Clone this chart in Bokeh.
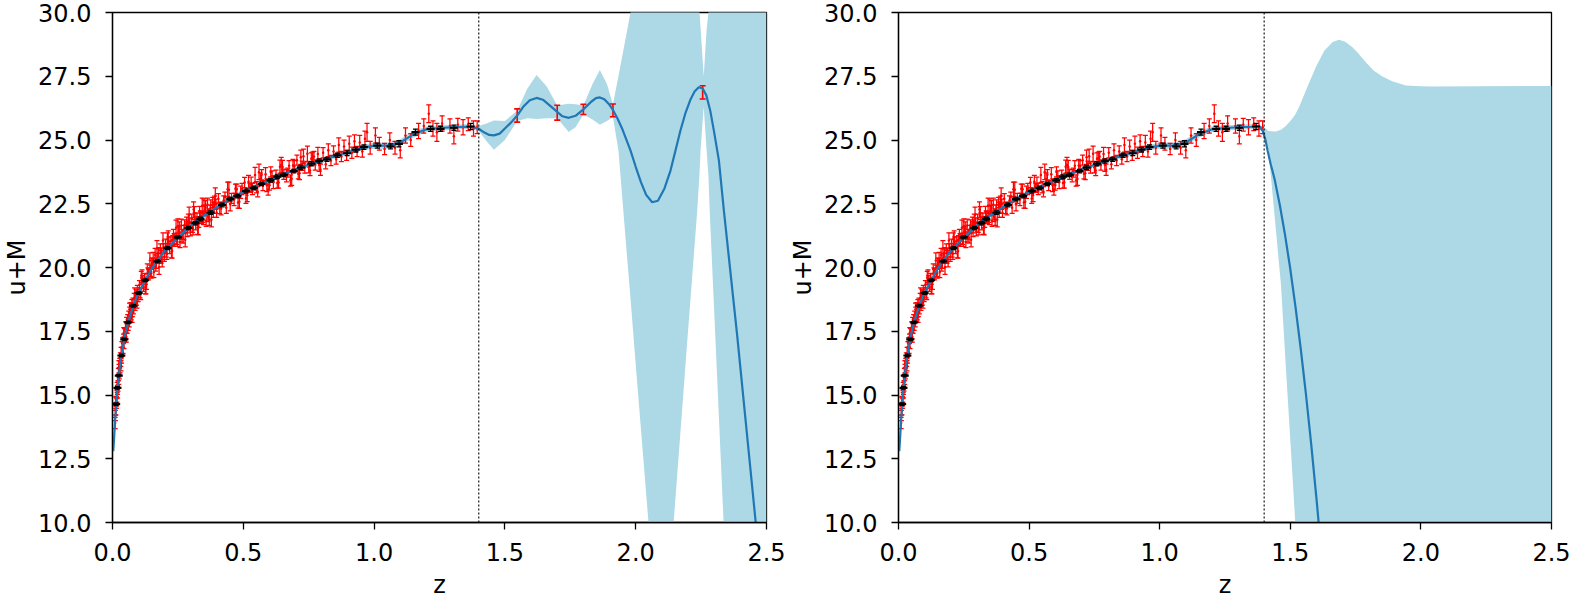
from bokeh.plotting import figure
from bokeh.layouts import row
from bokeh.models import Range1d, FixedTicker, PrintfTickFormatter, Span, ColumnDataSource
from bokeh.embed import file_html
from bokeh.resources import INLINE

# ---------------- data ----------------
# GP mean / band inside the data region (shared by both panels)
fit_z = [0.003, 0.006, 0.010, 0.015, 0.020, 0.030, 0.040, 0.050, 0.060, 0.070,
         0.080, 0.090, 0.100, 0.125, 0.150, 0.175, 0.200, 0.250, 0.300, 0.350,
         0.400, 0.450, 0.500, 0.550, 0.600, 0.650, 0.700, 0.750, 0.800, 0.850,
         0.900, 0.950, 1.000, 1.050, 1.100, 1.150, 1.200, 1.250, 1.300, 1.350]
fit_mu = [12.8, 13.3, 14.0, 14.8, 15.4, 16.3, 16.9, 17.45, 17.85, 18.2,
          18.5, 18.78, 19.0, 19.5, 19.95, 20.32, 20.65, 21.18, 21.64, 22.03,
          22.37, 22.68, 22.96, 23.2, 23.43, 23.64, 23.84, 24.03, 24.2, 24.37,
          24.52, 24.68, 24.78, 24.78, 24.9, 25.22, 25.42, 25.47, 25.5, 25.52]
fit_up = [13.1, 13.5, 14.15, 14.95, 15.55, 16.42, 17.02, 17.56, 17.96, 18.3,
          18.6, 18.88, 19.1, 19.6, 20.05, 20.42, 20.75, 21.27, 21.73, 22.12,
          22.46, 22.77, 23.05, 23.29, 23.52, 23.73, 23.93, 24.12, 24.3, 24.47,
          24.62, 24.78, 24.9, 24.9, 25.03, 25.35, 25.53, 25.58, 25.6, 25.62]
fit_lo = [12.5, 13.1, 13.85, 14.65, 15.25, 16.18, 16.78, 17.34, 17.74, 18.1,
          18.4, 18.68, 18.9, 19.4, 19.85, 20.22, 20.55, 21.09, 21.55, 21.94,
          22.28, 22.59, 22.87, 23.11, 23.34, 23.55, 23.75, 23.94, 24.1, 24.27,
          24.42, 24.58, 24.66, 24.66, 24.77, 25.09, 25.31, 25.36, 25.4, 25.42]

# left panel: GP beyond z = 1.38
muL_z = [1.38, 1.40, 1.42, 1.44, 1.458, 1.48, 1.50, 1.525, 1.547, 1.57,
         1.595, 1.621, 1.645, 1.67, 1.70, 1.72, 1.744, 1.77, 1.80, 1.83,
         1.848, 1.863, 1.88, 1.90, 1.913, 1.93, 1.95, 1.98, 2.00, 2.02,
         2.04, 2.063, 2.085, 2.11, 2.133, 2.15, 2.171, 2.19, 2.21, 2.225,
         2.241, 2.256, 2.27, 2.285, 2.30, 2.318, 2.337, 2.388, 2.458, 2.50]
muL = [25.5, 25.44, 25.3, 25.2, 25.18, 25.25, 25.45, 25.7, 25.96, 26.3,
       26.56, 26.65, 26.58, 26.37, 26.1, 25.93, 25.87, 25.95, 26.2, 26.5,
       26.64, 26.67, 26.6, 26.38, 26.18, 25.85, 25.4, 24.59, 23.95, 23.35,
       22.85, 22.56, 22.62, 23.1, 23.8, 24.5, 25.37, 26.05, 26.6, 26.9,
       27.07, 27.02, 26.75, 26.15, 25.3, 24.2, 22.24, 17.33, 10.08, 6.0]
bandL_z = [1.38, 1.40, 1.43, 1.458, 1.50, 1.547, 1.585, 1.621, 1.66, 1.70,
           1.744, 1.77, 1.80, 1.835, 1.863, 1.89, 1.913, 1.934, 1.96, 1.98,
           2.00, 2.049, 2.097, 2.145, 2.20, 2.235, 2.244, 2.248, 2.26, 2.271,
           2.278, 2.283, 2.31, 2.336, 2.40, 2.50]
bandL_up = [25.6, 25.55, 25.65, 25.76, 25.75, 26.15, 27.0, 27.55, 27.1, 26.35,
            26.42, 26.4, 26.35, 27.2, 27.75, 27.2, 26.4, 27.5, 28.9, 30.0,
            31.2, 33.0, 34.0, 33.0, 32.0, 30.8, 30.0, 29.4, 27.5, 29.3,
            30.0, 30.6, 32.5, 34.0, 36.0, 38.0]
bandL_lo = [25.4, 25.35, 24.95, 24.62, 25.0, 25.75, 25.85, 25.82, 25.85, 25.85,
            25.31, 25.5, 26.0, 25.8, 25.6, 25.75, 25.9, 24.6, 21.3, 18.8,
            16.2, 10.0, 5.0, 10.0, 17.5, 22.2, 23.7, 24.6, 26.3, 24.6,
            23.6, 22.2, 16.0, 10.0, 0.0, -10.0]

# right panel: GP beyond z = 1.38
muR_z = [1.38, 1.395, 1.405, 1.413, 1.425, 1.44, 1.46, 1.48, 1.50, 1.52,
         1.54, 1.56, 1.58, 1.60, 1.62, 1.65]
muR = [25.55, 25.35, 25.0, 24.59, 24.05, 23.46, 22.44, 21.27, 19.94, 18.45,
       16.81, 15.02, 13.07, 10.96, 8.7, 5.0]
bandR_z = [1.38, 1.40, 1.4165, 1.445, 1.464, 1.483, 1.505, 1.519, 1.534, 1.56,
           1.598, 1.63, 1.662, 1.687, 1.71, 1.738, 1.76, 1.789, 1.82, 1.853,
           1.89, 1.942, 2.0, 2.044, 2.50]
bandR_up = [25.6, 25.5, 25.35, 25.33, 25.4, 25.55, 25.8, 26.0, 26.3, 26.95,
            27.86, 28.5, 28.84, 28.93, 28.85, 28.64, 28.4, 28.05, 27.72, 27.49,
            27.3, 27.14, 27.11, 27.10, 27.12]
bandR_lo = [25.4, 25.3, 24.6, 21.45, 19.36, 16.1, 12.4, 10.0, 7.5, 3.0,
            -2.0, -6.0, -10.0, -12.0, -13.5, -15.0, -16.5, -18.0, -19.0, -20.0,
            -21.0, -22.0, -24.0, -25.0, -27.0]

# individual supernovae (red)
red_z = [
    0.0100, 0.0110, 0.0120, 0.0130, 0.0140, 0.0150, 0.0160, 0.0170, 0.0180, 0.0190,
    0.0200, 0.0210, 0.0225, 0.0235, 0.0250, 0.0260, 0.0275, 0.0290, 0.0300, 0.0315,
    0.0330, 0.0345, 0.0360, 0.0375, 0.0390, 0.0405, 0.0420, 0.0440, 0.0460, 0.0480,
    0.0500, 0.0520, 0.0540, 0.0560, 0.0580, 0.0600, 0.0620, 0.0640, 0.0660, 0.0680,
    0.0700, 0.0720, 0.0740, 0.0760, 0.0780, 0.0800, 0.0830, 0.0860, 0.0890, 0.0920,
    0.0950, 0.0980,
    0.0125, 0.0195, 0.0245, 0.0325, 0.0430, 0.0530, 0.0650, 0.0750, 0.0845, 0.0935,
    0.103, 0.108, 0.113, 0.118, 0.123, 0.128, 0.133, 0.138, 0.143, 0.148,
    0.153, 0.158, 0.163, 0.168, 0.173, 0.178, 0.183, 0.188, 0.193, 0.198,
    0.203, 0.208, 0.213, 0.218, 0.223, 0.228, 0.233, 0.238, 0.243, 0.248,
    0.253, 0.258, 0.263, 0.268, 0.273, 0.278, 0.283, 0.288, 0.293, 0.298,
    0.303, 0.308, 0.313, 0.318, 0.323, 0.328, 0.333, 0.338, 0.343, 0.348,
    0.353, 0.358, 0.363, 0.368, 0.373, 0.378, 0.383, 0.388, 0.393, 0.398,
    0.1055, 0.1155, 0.1255, 0.1355, 0.1455, 0.1555, 0.1655, 0.1755, 0.1855, 0.1955,
    0.2055, 0.2155, 0.2255, 0.2355, 0.2455, 0.2555, 0.2655, 0.2755, 0.2855, 0.2955,
    0.3055, 0.3155, 0.3255, 0.3355, 0.3455, 0.3555, 0.3655, 0.3755, 0.3855, 0.3955,
    0.11, 0.13, 0.15, 0.17, 0.19, 0.21, 0.23, 0.25, 0.27, 0.29,
    0.31, 0.33, 0.35, 0.37, 0.39,
    0.405, 0.415, 0.425, 0.435, 0.445, 0.455, 0.465, 0.475, 0.485, 0.495,
    0.505, 0.515, 0.525, 0.535, 0.545, 0.555, 0.565, 0.575, 0.585, 0.595,
    0.605, 0.615, 0.625, 0.635, 0.645, 0.655, 0.665, 0.675, 0.685, 0.695,
    0.705, 0.715, 0.725, 0.735, 0.745, 0.755, 0.765, 0.775, 0.785, 0.795,
    0.41, 0.43, 0.45, 0.47, 0.49, 0.51, 0.53, 0.55, 0.57, 0.59,
    0.61, 0.63, 0.65, 0.67, 0.69, 0.71, 0.73, 0.75, 0.77, 0.79,
    0.44, 0.48, 0.52, 0.56, 0.60, 0.64, 0.68, 0.72, 0.76,
    0.805, 0.815, 0.825, 0.835, 0.845, 0.855, 0.865, 0.875, 0.885, 0.895,
    0.905, 0.915, 0.925, 0.935, 0.945, 0.955, 0.965, 0.973, 0.985, 1.005,
    1.020, 1.040, 1.060, 1.080, 1.100, 1.120, 1.140, 1.170, 1.190, 1.209,
    1.225, 1.240, 1.260, 1.290, 1.305, 1.320, 1.340, 1.360, 1.380, 1.394]
red_u = [
    13.90, 14.20, 14.45, 14.40, 14.75, 14.70, 15.05, 14.95, 15.30, 15.20,
    15.55, 15.35, 15.80, 15.60, 16.00, 15.85, 16.25, 16.10, 16.45, 16.30,
    16.65, 16.45, 16.85, 16.70, 17.05, 16.85, 17.20, 17.05, 17.40, 17.25,
    17.65, 17.40, 17.80, 17.60, 17.95, 17.75, 18.10, 17.90, 18.25, 18.05,
    18.40, 18.15, 18.50, 18.25, 18.60, 18.40, 18.80, 18.55, 18.95, 18.70,
    19.10, 18.85,
    14.70, 15.09, 16.11, 16.15, 17.42, 17.27, 18.36, 18.05, 18.98, 18.61,
    19.31, 18.96, 19.66, 19.26, 19.61, 19.25, 19.94, 19.73, 20.27, 19.76,
    20.19, 19.82, 20.50, 20.17, 20.39, 20.01, 20.73, 20.54, 21.06, 20.42,
    20.93, 20.54, 21.19, 20.74, 21.04, 20.65, 21.30, 21.05, 21.56, 21.01,
    21.41, 21.00, 21.65, 21.30, 21.49, 21.09, 21.78, 21.58, 22.07, 21.42,
    21.91, 21.50, 22.14, 21.68, 21.97, 21.56, 22.20, 21.94, 22.42, 21.86,
    22.25, 21.83, 22.47, 22.10, 22.29, 21.87, 22.55, 22.34, 22.82, 22.15,
    19.01, 19.51, 19.21, 19.79, 19.87, 20.33, 20.04, 20.58, 20.41, 20.74,
    20.61, 21.02, 20.62, 21.13, 21.13, 21.53, 21.18, 21.67, 21.46, 21.75,
    21.58, 21.96, 21.54, 22.02, 21.99, 22.36, 21.98, 22.45, 22.22, 22.48,
    19.60, 19.34, 20.15, 20.75, 20.22, 21.11, 21.07, 21.63, 21.16, 21.85,
    22.27, 21.77, 22.43, 21.87, 22.55,
    22.70, 22.31, 22.63, 22.34, 23.05, 22.71, 22.67, 23.07, 22.58, 23.08,
    23.33, 22.83, 23.13, 23.08, 23.63, 22.97, 23.47, 23.21, 23.66, 23.06,
    23.75, 23.34, 23.64, 23.33, 24.02, 23.66, 23.60, 23.99, 23.48, 23.97,
    24.21, 23.70, 23.99, 23.92, 24.46, 23.80, 24.28, 24.02, 24.45, 23.83,
    22.33, 22.76, 22.48, 23.09, 22.95, 22.71, 23.26, 23.15, 23.64, 23.23,
    23.57, 23.31, 23.94, 23.72, 24.00, 23.68, 24.36, 23.93, 24.35, 24.02,
    23.07, 22.55, 23.36, 23.75, 23.23, 23.95, 23.41, 24.32, 24.26,
    24.50, 24.05, 24.60, 24.20, 24.55, 24.25, 24.80, 24.35, 24.75, 24.40,
    24.85, 24.50, 24.95, 24.55, 24.90, 24.55, 25.05, 25.30, 24.70, 25.18,
    24.85, 24.65, 25.00, 24.70, 24.60, 25.18, 25.00, 25.35, 25.55, 26.03,
    25.45, 25.30, 25.65, 25.55, 25.15, 25.60, 25.50, 25.62, 25.45, 25.50]
red_err = [
    0.22, 0.20, 0.24, 0.18, 0.20, 0.22, 0.19, 0.23, 0.20, 0.18,
    0.22, 0.20, 0.24, 0.18, 0.20, 0.22, 0.19, 0.23, 0.20, 0.18,
    0.22, 0.20, 0.24, 0.18, 0.20, 0.22, 0.19, 0.23, 0.20, 0.18,
    0.22, 0.20, 0.24, 0.18, 0.20, 0.22, 0.19, 0.23, 0.20, 0.18,
    0.22, 0.20, 0.24, 0.18, 0.20, 0.22, 0.19, 0.23, 0.20, 0.18,
    0.20, 0.19,
    0.22, 0.20, 0.24, 0.20, 0.22, 0.20, 0.24, 0.20, 0.22, 0.20,
    0.18, 0.22, 0.25, 0.20, 0.16, 0.28, 0.20, 0.22, 0.30, 0.18,
    0.18, 0.22, 0.25, 0.20, 0.16, 0.28, 0.20, 0.22, 0.30, 0.18,
    0.18, 0.22, 0.25, 0.20, 0.16, 0.28, 0.20, 0.22, 0.30, 0.18,
    0.18, 0.22, 0.25, 0.20, 0.16, 0.28, 0.20, 0.22, 0.30, 0.18,
    0.18, 0.22, 0.25, 0.20, 0.16, 0.28, 0.20, 0.22, 0.30, 0.18,
    0.18, 0.22, 0.25, 0.20, 0.16, 0.28, 0.20, 0.22, 0.30, 0.18,
    0.20, 0.18, 0.24, 0.20, 0.22, 0.26, 0.18, 0.20, 0.25, 0.20,
    0.20, 0.18, 0.24, 0.20, 0.22, 0.26, 0.18, 0.20, 0.25, 0.20,
    0.20, 0.18, 0.24, 0.20, 0.22, 0.26, 0.18, 0.20, 0.25, 0.20,
    0.25, 0.20, 0.22, 0.30, 0.20, 0.25, 0.18, 0.28, 0.20, 0.24,
    0.30, 0.20, 0.26, 0.22, 0.25,
    0.20, 0.25, 0.18, 0.22, 0.30, 0.20, 0.24, 0.20, 0.26, 0.22,
    0.20, 0.25, 0.18, 0.22, 0.30, 0.20, 0.24, 0.20, 0.26, 0.22,
    0.20, 0.25, 0.18, 0.22, 0.30, 0.20, 0.24, 0.20, 0.26, 0.22,
    0.20, 0.25, 0.18, 0.22, 0.30, 0.20, 0.24, 0.20, 0.26, 0.22,
    0.22, 0.20, 0.26, 0.18, 0.24, 0.20, 0.28, 0.22, 0.20, 0.25,
    0.22, 0.20, 0.26, 0.18, 0.24, 0.20, 0.28, 0.22, 0.20, 0.25,
    0.28, 0.22, 0.25, 0.30, 0.20, 0.26, 0.22, 0.28, 0.24,
    0.20, 0.18, 0.25, 0.20, 0.22, 0.20, 0.28, 0.20, 0.25, 0.20,
    0.30, 0.22, 0.25, 0.20, 0.28, 0.22, 0.30, 0.35, 0.25, 0.30,
    0.25, 0.22, 0.28, 0.25, 0.30, 0.30, 0.25, 0.30, 0.28, 0.35,
    0.30, 0.35, 0.30, 0.28, 0.30, 0.25, 0.30, 0.25, 0.30, 0.25]

# high-redshift supernovae (left panel only)
hz_z = [1.547, 1.700, 1.800, 1.913, 2.256]
hz_u = [25.96, 26.07, 26.20, 26.16, 26.87]
hz_err = [0.26, 0.29, 0.20, 0.25, 0.26]

# binned points (black)
black_z = [0.014, 0.019, 0.024, 0.034, 0.045, 0.06, 0.08, 0.10, 0.125, 0.171,
           0.21, 0.25, 0.29, 0.317, 0.336, 0.375, 0.419, 0.45, 0.477, 0.51,
           0.54, 0.57, 0.604, 0.63, 0.655, 0.693, 0.72, 0.76, 0.79, 0.82,
           0.86, 0.897, 0.93, 0.961, 1.012, 1.063, 1.095, 1.158, 1.216, 1.254,
           1.305, 1.369]
black_u = [14.64, 15.28, 15.76, 16.55, 17.18, 17.85, 18.5, 19.0, 19.5, 20.24,
           20.76, 21.18, 21.55, 21.74, 21.9, 22.15, 22.45, 22.68, 22.8, 23.0,
           23.12, 23.28, 23.42, 23.56, 23.63, 23.78, 23.92, 24.07, 24.17, 24.24,
           24.4, 24.48, 24.62, 24.72, 24.78, 24.75, 24.85, 25.31, 25.44, 25.44,
           25.48, 25.53]
black_err = [0.05, 0.05, 0.05, 0.05, 0.05, 0.05, 0.05, 0.05, 0.05, 0.06,
             0.06, 0.06, 0.06, 0.07, 0.07, 0.07, 0.07, 0.07, 0.07, 0.07,
             0.07, 0.07, 0.07, 0.07, 0.07, 0.07, 0.08, 0.08, 0.08, 0.08,
             0.08, 0.09, 0.09, 0.09, 0.10, 0.10, 0.12, 0.12, 0.10, 0.10,
             0.10, 0.12]

x_ticks = [0.0, 0.5, 1.0, 1.5, 2.0, 2.5]
y_ticks = [10.0, 12.5, 15.0, 17.5, 20.0, 22.5, 25.0, 27.5, 30.0]
z_cut = 1.4

assert len(red_z) == len(red_u) == len(red_err)
assert len(black_z) == len(black_u) == len(black_err)
assert len(muL_z) == len(muL) and len(muR_z) == len(muR)
assert len(bandL_z) == len(bandL_up) == len(bandL_lo)
assert len(bandR_z) == len(bandR_up) == len(bandR_lo)
assert len(fit_z) == len(fit_mu) == len(fit_up) == len(fit_lo)

# ---------------- style ----------------
FONT = "DejaVu Sans"
BAND = "#add8e6"
LINE = "#1f77b4"


def errorbars(p, z, u, e, color, lw, cap):
    src = ColumnDataSource(dict(
        x=z, y=u,
        y0=[a - b for a, b in zip(u, e)],
        y1=[a + b for a, b in zip(u, e)]))
    p.segment(x0="x", y0="y0", x1="x", y1="y1", source=src,
              line_color=color, line_width=lw)
    p.scatter(x="x", y="y0", marker="dash", size=cap, source=src,
              line_color=color, line_width=lw)
    p.scatter(x="x", y="y1", marker="dash", size=cap, source=src,
              line_color=color, line_width=lw)


def panel(mu_z, mu_v, b_z, b_up, b_lo, high_z, fw, bl, br):
    p = figure(frame_width=fw, frame_height=510,
               x_range=Range1d(0, 2.5), y_range=Range1d(10, 30),
               output_backend="svg", toolbar_location=None,
               min_border_left=bl, min_border_right=br,
               min_border_top=12, min_border_bottom=74,
               background_fill_color="white", border_fill_color="white")
    p.xgrid.visible = False
    p.ygrid.visible = False
    p.outline_line_color = "black"
    p.outline_line_width = 1.3
    p.outline_line_alpha = 1.0

    p.varea(x=fit_z + b_z, y1=fit_lo + b_lo, y2=fit_up + b_up,
            fill_color=BAND, fill_alpha=1.0)

    errorbars(p, red_z, red_u, red_err, "red", 1.25, 5)
    p.scatter(red_z, red_u, marker="circle", size=2.5, fill_color="red",
              line_color=None)
    if high_z:
        errorbars(p, hz_z, hz_u, hz_err, "red", 1.6, 6)

    p.line(fit_z + mu_z, fit_mu + mu_v, line_color=LINE, line_width=2.2)

    errorbars(p, black_z, black_u, black_err, "black", 1.3, 5)
    p.scatter(black_z, black_u, marker="dash", size=8, line_color="black",
              line_width=2.2)

    p.add_layout(Span(location=z_cut, dimension="height", line_color="black",
                      line_dash="2 2", line_width=1.3, line_alpha=0.85))

    p.xaxis.ticker = FixedTicker(ticks=x_ticks)
    p.yaxis.ticker = FixedTicker(ticks=y_ticks)
    p.xaxis.formatter = PrintfTickFormatter(format="%.1f")
    p.yaxis.formatter = PrintfTickFormatter(format="%.1f")
    p.xaxis.axis_label = "z"
    p.yaxis.axis_label = "u+M"
    for ax in (p.xaxis[0], p.yaxis[0]):
        ax.major_label_text_font = FONT
        ax.major_label_text_font_size = "24px"
        ax.major_label_text_color = "black"
        ax.axis_label_text_font = FONT
        ax.axis_label_text_font_size = "24px"
        ax.axis_label_text_font_style = "normal"
        ax.axis_label_text_color = "black"
        ax.minor_tick_line_color = None
        ax.major_tick_out = 7
        ax.major_tick_in = 0
        ax.major_tick_line_width = 1.3
        ax.major_tick_line_color = "black"
        ax.axis_line_width = 1.3
        ax.axis_line_color = "black"
    p.yaxis.major_label_standoff = 14
    p.yaxis.axis_label_standoff = 4
    p.xaxis.major_label_standoff = 13
    p.xaxis.axis_label_standoff = 7
    return p


p_left = panel(muL_z, muL, bandL_z, bandL_up, bandL_lo, True, 654, 110, 20)
p_right = panel(muR_z, muR, bandR_z, bandR_up, bandR_lo, False, 653, 110, 20)

layout = row(p_left, p_right)
open("out.html", "w").write(file_html(layout, INLINE))
